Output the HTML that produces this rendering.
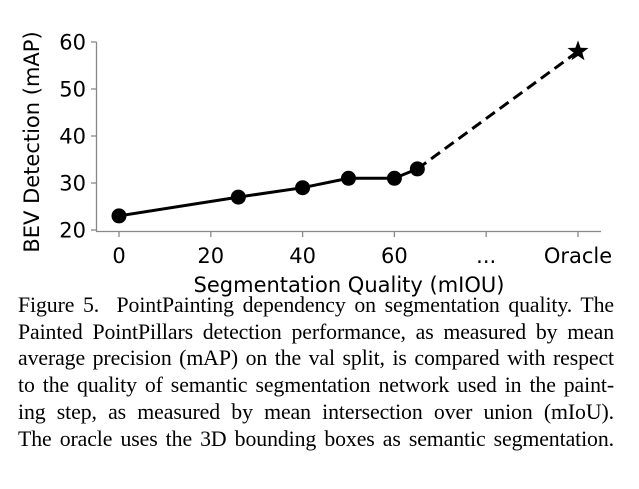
<!DOCTYPE html>
<html><head><meta charset="utf-8"><style>
body{margin:0;width:639px;height:489px;background:#fff;overflow:hidden;position:relative}
svg{position:absolute;left:0;top:0}
#cap{position:absolute;left:18px;top:292px;width:596px;font-family:"Liberation Serif",serif;font-size:21.8px;line-height:26.7px;color:#000;letter-spacing:-0.1px}
#cap div{text-align:justify;text-align-last:justify;white-space:nowrap}
</style></head><body>
<svg width="639" height="300" font-family="DejaVu Sans, sans-serif" font-size="21">
<g id="g"></g>
</svg>
<div id="cap">
<div>Figure 5.&nbsp; PointPainting dependency on segmentation quality. The</div>
<div>Painted PointPillars detection performance, as measured by mean</div>
<div>average precision (mAP) on the val split, is compared with respect</div>
<div>to the quality of semantic segmentation network used in the paint-</div>
<div>ing step, as measured by mean intersection over union (mIoU).</div>
<div>The oracle uses the 3D bounding boxes as semantic segmentation.</div>
</div>
<script>
const xValues=[0,26,40,50,60,65];
const yValues=[23,27,29,31,31,33];
const oracleValue=58;
const xTickLabels=["0","20","40","60","...","Oracle"];
const yTicks=[20,30,40,50,60];
const ns="http://www.w3.org/2000/svg";
const g=document.getElementById('g');
function X(v){return 119+v*4.59;}
function Xi(i){return 119+i*91.8;}
function Y(v){return 230-(v-20)*4.7;}
function mk(t,a,txt){const e=document.createElementNS(ns,t);for(const k in a)e.setAttribute(k,a[k]);if(txt!==undefined)e.textContent=txt;g.appendChild(e);return e;}
let e;
e=mk('line',{x1:96.5,y1:Y(60),x2:96.5,y2:231.5,stroke:'#888','stroke-width':1.3});


e=mk('line',{x1:96,y1:231.5,x2:601,y2:231.5,stroke:'#888','stroke-width':1.3});


yTicks.forEach(v=>{mk('line',{x1:91,y1:Y(v),x2:96.5,y2:Y(v),stroke:'#888','stroke-width':1.3});
e=mk('text',{x:86,y:Y(v)+7.5,'text-anchor':'end'},v);

});
xTickLabels.forEach((l,i)=>{mk('line',{x1:Xi(i),y1:231.5,x2:Xi(i),y2:237,stroke:'#888','stroke-width':1.3});
e=mk('text',{x:Xi(i),y:263,'text-anchor':'middle'},l);

});
e=mk('text',{x:349,y:292,'text-anchor':'middle'},'Segmentation Quality (mIOU)');


e=mk('text',{x:0,y:0,'text-anchor':'middle',transform:'translate(39,142) rotate(-90)'},'BEV Detection (mAP)');


e=mk('polyline',{points:xValues.map((x,i)=>X(x)+','+Y(yValues[i])).join(' '),fill:'none',stroke:'#000','stroke-width':3});


const lx=X(xValues[xValues.length-1]),ly=Y(yValues[yValues.length-1]),ox=Xi(5),oy=Y(oracleValue);
e=mk('line',{x1:lx,y1:ly,x2:ox,y2:oy,stroke:'#000','stroke-width':3,'stroke-dasharray':'11,6'});


xValues.forEach((x,i)=>{e=mk('circle',{cx:X(x),cy:Y(yValues[i]),r:7.5,fill:'#000'});

});
let pts=[];for(let k=0;k<10;k++){const r=k%2?4.5:11,a=-Math.PI/2+k*Math.PI/5;pts.push((ox+r*Math.cos(a)).toFixed(1)+','+(oy+r*Math.sin(a)).toFixed(1));}
e=mk('polygon',{points:pts.join(' '),fill:'#000'});


</script>
</body></html>
